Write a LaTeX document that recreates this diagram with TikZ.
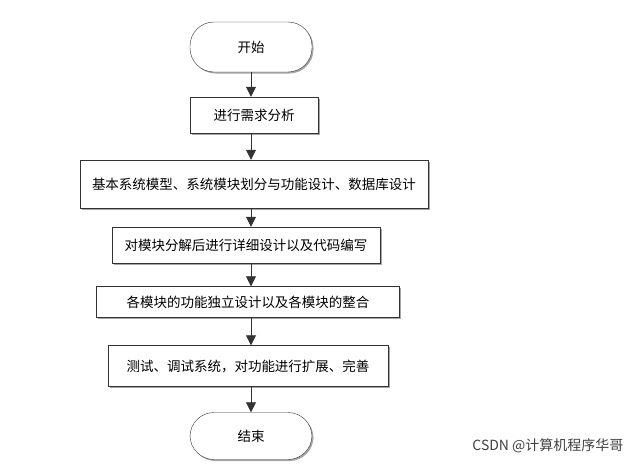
\documentclass[tikz,border=0pt]{standalone}
\usepackage{fontspec}
\newfontfamily\cjk{Noto Sans CJK SC}
\usetikzlibrary{positioning,arrows.meta,shadows}
\tikzset{
  stepbox/.style={rectangle,draw=black!80,fill=white,font=\cjk\fontsize{13.5}{15}\selectfont,
    drop shadow={shadow xshift=1.5pt,shadow yshift=-1.5pt,fill=black!35,opacity=1}},
  endbox/.style={stepbox,rounded corners=24pt,minimum width=122pt,minimum height=50pt},
  flow/.style={draw=black!80,thick,-{Triangle[length=10pt,width=10pt]}}
}
\begin{document}
\begin{tikzpicture}[x=1pt,y=-1pt]
\useasboundingbox (0,0) rectangle (641,469);
\node[endbox] (start) at (251,47) {开始};
\node[stepbox,minimum width=128pt,minimum height=36pt] (need) at (254,115) {进行需求分析};
\node[stepbox,minimum width=348pt,minimum height=48pt] (model) at (254,184) {基本系统模型、系统模块划分与功能设计、数据库设计};
\node[stepbox,minimum width=268pt,minimum height=36pt] (detail) at (246,245) {对模块分解后进行详细设计以及代码编写};
\node[stepbox,minimum width=303pt,minimum height=31pt] (merge) at (248,302) {各模块的功能独立设计以及各模块的整合};
\node[stepbox,minimum width=280pt,minimum height=41pt] (test) at (248,366) {测试、调试系统，对功能进行扩展、完善};
\node[endbox,minimum height=47pt] (finish) at (251,436) {结束};
\draw[flow] (start.south -| 251,0) -- (need.north -| 251,0);
\draw[flow] (need.south -| 251,0) -- (model.north -| 251,0);
\draw[flow] (model.south -| 251,0) -- (detail.north -| 251,0);
\draw[flow] (detail.south -| 251,0) -- (merge.north -| 251,0);
\draw[flow] (merge.south -| 251,0) -- (test.north -| 251,0);
\draw[flow] (test.south -| 251,0) -- (finish.north -| 251,0);
\node[font=\cjk\fontsize{14}{16}\selectfont,text=black!75,anchor=east] (mark) at (627,446) {CSDN @计算机程序华哥};
\end{tikzpicture}
\end{document}
